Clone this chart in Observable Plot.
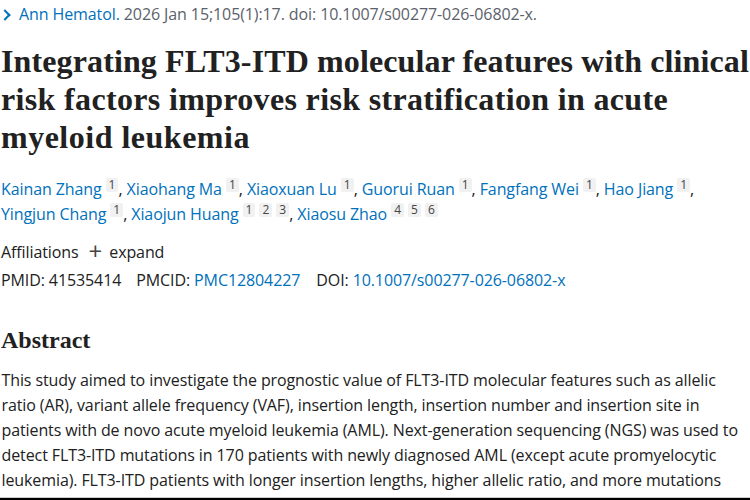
<!DOCTYPE html>
<html><head><meta charset="utf-8">
<script src="https://cdn.jsdelivr.net/npm/d3@7"></script>
<script src="https://cdn.jsdelivr.net/npm/@observablehq/plot@0.6"></script>
<style>
html,body{margin:0;padding:0;background:#fff;overflow:hidden}
body{width:750px;height:500px;font-family:"Open Sans",sans-serif;font-size:16px;letter-spacing:-.1px;color:#212121;position:relative}
#head{height:360px;position:relative;overflow:hidden}
#head>div{position:absolute;left:1px;white-space:nowrap}
a{color:#0071bc;text-decoration:none}
.title{font-family:"Liberation Serif",serif;font-weight:700;font-size:32px;color:#212121;line-height:38px}
.h2{font-family:"Liberation Serif",serif;font-weight:700;font-size:24px;line-height:30px;letter-spacing:0}
sup{display:inline-block;background:#f1f1f1;color:#444;font-size:12px;line-height:14px;padding:0 3px;margin-left:4px;vertical-align:6px;border-radius:2px;letter-spacing:0}
.g{color:#5b616b}
.chev{display:inline-block;box-sizing:border-box;width:8px;height:8px;border-top:2px solid #0071bc;border-right:2px solid #0071bc;transform:rotate(45deg);margin:0 10px 1px 0}
.plus{color:#444;font-size:24px;line-height:16px;vertical-align:-2px;margin:0 3px 0 6px}
#bar{position:absolute;left:0;right:0;bottom:0;height:2px;background:#000;border-top:1px solid #ccc}
</style></head><body>
<div id="head"></div>
<div id="chart"></div>
<div id="bar"></div>
<script>
const journal = "Ann Hematol.";
const citation = " 2026 Jan 15;105(1):17. doi: 10.1007/s00277-026-06802-x.";
const titleLines = ["Integrating FLT3-ITD molecular features with clinical","risk factors improves risk stratification in acute","myeloid leukemia"];
const authorsLine1 = [["Kainan Zhang",["1"]],["Xiaohang Ma",["1"]],["Xiaoxuan Lu",["1"]],["Guorui Ruan",["1"]],["Fangfang Wei",["1"]],["Hao Jiang",["1"]]];
const authorsLine2 = [["Yingjun Chang",["1"]],["Xiaojun Huang",["1","2","3"]],["Xiaosu Zhao",["4","5","6"]]];
const abstractHeading = "Abstract";
const abstractLines = [
 "This study aimed to investigate the prognostic value of FLT3-ITD molecular features such as allelic",
 "ratio (AR), variant allele frequency (VAF), insertion length, insertion number and insertion site in",
 "patients with de novo acute myeloid leukemia (AML). Next-generation sequencing (NGS) was used to",
 "detect FLT3-ITD mutations in 170 patients with newly diagnosed AML (except acute promyelocytic",
 "leukemia). FLT3-ITD patients with longer insertion lengths, higher allelic ratio, and more mutations"
];
const lineIndex = d3.range(abstractLines.length);
const titleSpacing = [0.12, 0.34, 0.5];
const au = (list, trail) => list.map(([n,s]) => `<a>${n}</a>${s.map(x=>`<sup>${x}</sup>`).join("")}`).join(", ") + trail;
document.getElementById("head").innerHTML = `
<div style="top:3px"><span class="chev"></span><a>${journal}</a><span class="g">${citation}</span></div>
${titleLines.map((t,i)=>`<div class="title" style="top:${42+38*i}px;letter-spacing:${titleSpacing[i]}px">${t}</div>`).join("")}
<div style="top:178px">${au(authorsLine1,",")}</div>
<div style="top:203px">${au(authorsLine2,"")}</div>
<div style="top:241px">Affiliations <span class="plus">+</span> expand</div>
<div style="top:269px">PMID: 41535414<span style="margin-left:15px">PMCID:</span> <a>PMC12804227</a><span style="margin-left:16px">DOI:</span> <a>10.1007/s00277-026-06802-x</a></div>
<div class="h2" style="top:325px">${abstractHeading}</div>`;
const plot = Plot.plot({
  width: 750, height: 140, margin: 0, marginLeft: 1,
  style: {background:"#fff", letterSpacing:"-0.1px"},
  x: {axis:null, domain:[0,1]},
  y: {axis:null, type:"point", domain: lineIndex, padding: 0, range:[20,120]},
  marks: [
    Plot.text(abstractLines, {
      y: (d,i)=>i, frameAnchor:"left", text:d=>d,
      fontFamily:'"Open Sans",sans-serif', fontSize:16, fill:"#212121", lineWidth:200
    })
  ]
});
document.getElementById("chart").appendChild(plot);
</script></body></html>
